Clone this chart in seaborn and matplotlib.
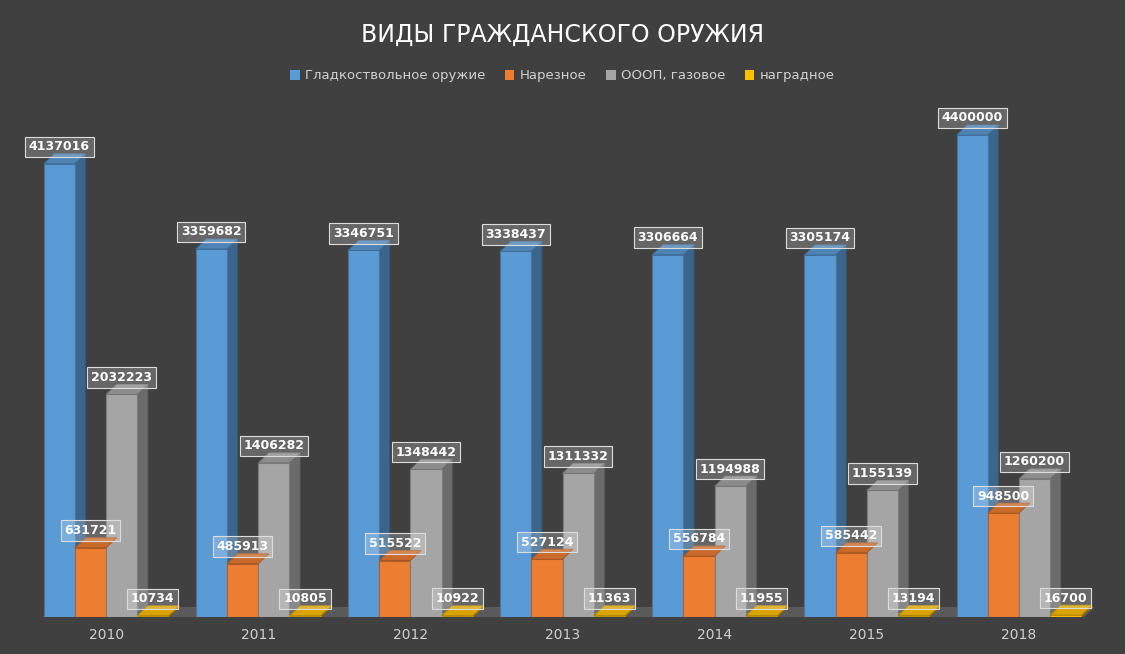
import matplotlib.pyplot as plt
import matplotlib.colors as mc
from matplotlib.patches import Polygon
import pandas as pd
import seaborn as sns

years = ["2010", "2011", "2012", "2013", "2014", "2015", "2018"]
kinds = ["Гладкоствольное оружие", "Нарезное", "ОООП, газовое", "наградное"]
smooth = [4137016, 3359682, 3346751, 3338437, 3306664, 3305174, 4400000]
rifled = [631721, 485913, 515522, 527124, 556784, 585442, 948500]
gas = [2032223, 1406282, 1348442, 1311332, 1194988, 1155139, 1260200]
award = [10734, 10805, 10922, 11363, 11955, 13194, 16700]
colors = ["#5B9BD5", "#ED7D31", "#A5A5A5", "#FFC000"]

rows = []
for k, vals in zip(kinds, [smooth, rifled, gas, award]):
    for y, v in zip(years, vals):
        rows.append({"year": y, "kind": k, "value": v})
df = pd.DataFrame(rows)

bg = "#404040"
fig = plt.figure(figsize=(11.25, 6.54), dpi=100, facecolor=bg)
ax = fig.add_axes([30 / 1125, 37 / 654, 1065 / 1125, 517 / 654])
ax.set_facecolor(bg)

sns.barplot(data=df, x="year", y="value", hue="kind", hue_order=kinds,
            palette=colors, width=0.82, saturation=1, ax=ax, legend=False)
ax.set_xlim(-0.5, 6.5)
ymax = 4720000
ax.set_ylim(0, ymax)

dx = 0.07
dy = ymax * 10 / 517

# floor
ax.add_patch(Polygon([(-0.42, 0), (-0.42 + dx, dy), (6.5, dy), (6.5 - dx, 0)],
                     closed=True, fc="#5a5a5a", ec="none", zorder=0.5))


def shade(c, f):
    r, g, b = mc.to_rgb(c)
    return (r * f, g * f, b * f)


for i, cont in enumerate(ax.containers):
    col = colors[i]
    for p in cont:
        x0, w, h = p.get_x(), p.get_width(), p.get_height()
        x1 = x0 + w
        p.set_edgecolor(shade(col, 0.75))
        p.set_linewidth(0.8)
        ax.add_patch(Polygon([(x1, 0), (x1 + dx, dy), (x1 + dx, h + dy), (x1, h)],
                             closed=True, fc=shade(col, 0.65), ec=shade(col, 0.55),
                             lw=0.6, zorder=p.get_zorder() - 0.01))
        ax.add_patch(Polygon([(x0, h), (x0 + dx, h + dy), (x1 + dx, h + dy), (x1, h)],
                             closed=True, fc=shade(col, 0.85), ec=shade(col, 0.7),
                             lw=0.6, zorder=p.get_zorder() + 0.01))
        ax.text(x0 + w / 2, h + ymax * 0.033, f"{int(h)}",
                ha="center", va="center", color="white", fontsize=9,
                fontweight="bold", zorder=5,
                bbox=dict(boxstyle="square,pad=0.3", fc=(1, 1, 1, 0.2),
                          ec="#dddddd", lw=0.8))

for s in ax.spines.values():
    s.set_visible(False)
ax.set_yticks([])
ax.set_xlabel("")
ax.set_ylabel("")
ax.tick_params(axis="x", length=0, colors="#d0d0d0", labelsize=10, pad=8)

fig.text(0.5, 1 - 35 / 654, "ВИДЫ ГРАЖДАНСКОГО ОРУЖИЯ", ha="center", va="center",
         color="white", fontsize=17)
handles = [plt.Rectangle((0, 0), 1, 1, fc=c) for c in colors]
fig.legend(handles, kinds, loc="center", bbox_to_anchor=(0.5, 1 - 76 / 654), ncol=4,
           frameon=False, labelcolor="#d0d0d0", fontsize=9.5, handlelength=0.7,
           handleheight=0.7, columnspacing=1.5, handletextpad=0.4)

fig.savefig("out.png", dpi=100, facecolor=bg)
